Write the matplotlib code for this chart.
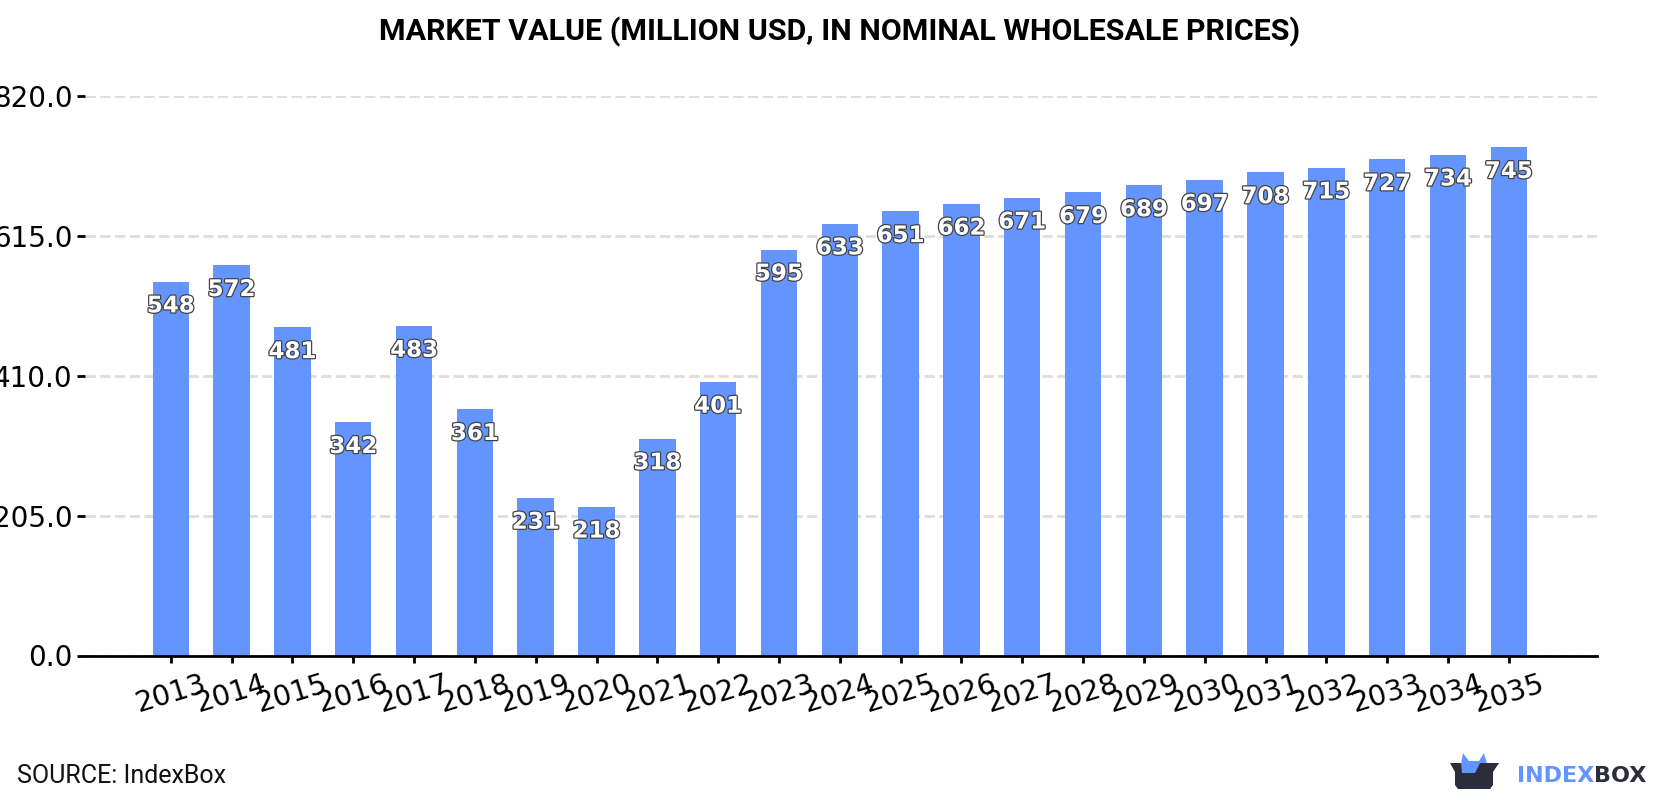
import matplotlib
matplotlib.use("Agg")
from matplotlib import pyplot as plt
from matplotlib import patheffects as pe
from matplotlib.patches import Polygon
import numpy as np

years = [2013, 2014, 2015, 2016, 2017, 2018, 2019, 2020, 2021, 2022, 2023, 2024,
         2025, 2026, 2027, 2028, 2029, 2030, 2031, 2032, 2033, 2034, 2035]
values = [548, 572, 481, 342, 483, 361, 231, 218, 318, 401, 595, 633,
          651, 662, 671, 679, 689, 697, 708, 715, 727, 734, 745]
yticks = [0, 205, 410, 615, 820]
title = "MARKET VALUE (MILLION USD, IN NOMINAL WHOLESALE PRICES)"
source = "SOURCE: IndexBox"

W, H = 1680, 800
blue = "#6495ff"
dark = "#2b2d3a"

fig = plt.figure(figsize=(W / 100, H / 100), dpi=100, facecolor="white")
ax = fig.add_axes([85 / W, 1 - 655.5 / H, (1597 - 85) / W, (655.5 - 96) / H])

x = np.arange(len(years))
ax.bar(x, values, width=0.6, color=blue, zorder=2)
ax.set_xlim(-1.41, len(years) - 1 + 1.45)
ax.set_ylim(0, 820)

ax.set_yticks(yticks)
ax.set_yticklabels([f"{v:.1f}" for v in yticks], fontsize=20, color="black")
ax.set_xticks(x)
ax.set_xticklabels(years, fontsize=20.5, rotation=17, ha="center", color="black")
ax.tick_params(axis="y", length=6, width=2, pad=3)
ax.tick_params(axis="x", length=5, width=2, pad=5)
ax.grid(axis="y", color="#dddddd", linewidth=2, linestyle=(0, (3.7, 1.6)), zorder=0)
ax.set_axisbelow(True)

for side in ["top", "right", "left"]:
    ax.spines[side].set_visible(False)
ax.spines["bottom"].set_linewidth(2)
ax.spines["bottom"].set_zorder(5)

# value labels sit just under the top of each bar
for xi, v in zip(x, values):
    ax.annotate(str(v), (xi, v), xytext=(0, -17.5), textcoords="offset points",
                ha="center", va="center", fontsize=16.5, fontweight="bold", color="white",
                zorder=4, path_effects=[pe.withStroke(linewidth=1.8, foreground="#444444")])

fig.text(0.5, 1 - 32 / H, title, ha="center", va="center", family="Roboto",
         fontweight="bold", fontsize=21.9, color="black")
fig.text(17 / W, 1 - 776 / H, source, ha="left", va="center", family="Roboto",
         fontsize=18, color="#111111")

# logo, drawn in figure pixels
logo = fig.add_axes([0, 0, 1, 1], facecolor="none")
logo.set_xlim(0, W)
logo.set_ylim(H, 0)
logo.axis("off")
logo.add_patch(Polygon([(1461, 764), (1463, 753), (1469, 761), (1479, 761), (1484, 753),
                        (1487, 764), (1487, 772), (1475, 773), (1461, 773)],
                       closed=True, color=blue, lw=0))
logo.add_patch(Polygon([(1450, 763), (1461, 763), (1462, 773), (1475, 773), (1480, 763),
                        (1499, 763), (1493, 772), (1493, 785), (1490, 789), (1458, 789),
                        (1455, 785), (1455, 772)],
                       closed=True, color=dark, lw=0, zorder=2))
t1 = logo.text(1517, 782, "INDEX", ha="left", va="baseline", family="DejaVu Sans",
               fontweight="bold", fontsize=16, color=blue)
fig.canvas.draw()
bb = t1.get_window_extent()
logo.text(bb.x1, 782, "BOX", ha="left", va="baseline", family="DejaVu Sans",
          fontweight="bold", fontsize=16, color=dark)

fig.savefig("out.png", dpi=100)
